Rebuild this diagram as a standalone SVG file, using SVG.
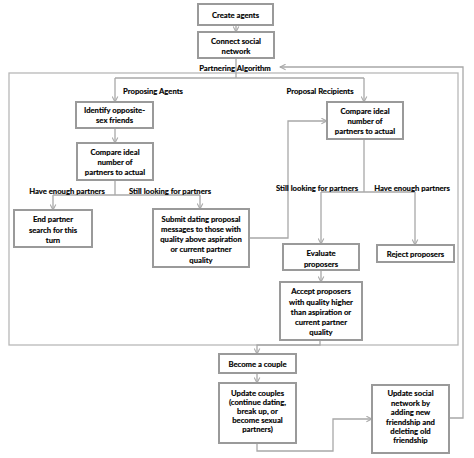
<svg xmlns="http://www.w3.org/2000/svg" width="474" height="458" viewBox="0 0 474 458">
<style>
.box{fill:#fff;stroke:#9a9a9a;stroke-width:2}
.ln{fill:none;stroke:#a8a8a8;stroke-width:1.3}
text{font-family:Lato,"Liberation Sans",sans-serif;font-weight:bold;font-size:7.7px;fill:#000;stroke:#000;stroke-width:0.15;text-anchor:middle;dominant-baseline:central}
</style>
<defs>
<marker id="ah" viewBox="0 0 10 10" refX="9" refY="5" markerWidth="7" markerHeight="7" orient="auto" markerUnits="userSpaceOnUse">
<path d="M1,1 L9,5 L1,9" fill="none" stroke="#a8a8a8" stroke-width="1.5"/>
</marker>
</defs>
<rect x="0" y="0" width="474" height="458" fill="#fff"/>
<rect x="9" y="73" width="449" height="272" fill="none" stroke="#b8b8b8" stroke-width="1.3"/>
<g id="connectors">
<path class="ln" d="M236,25 V32" marker-end="url(#ah)"/>
<path class="ln" d="M236,58 V78"/>
<path class="ln" d="M115,78 H364"/>
<path class="ln" d="M115,78 V102" marker-end="url(#ah)"/>
<path class="ln" d="M364,78 V102" marker-end="url(#ah)"/>
<path class="ln" d="M115,128 V143" marker-end="url(#ah)"/>
<path class="ln" d="M115,180 V195"/>
<path class="ln" d="M53,195 H200"/>
<path class="ln" d="M53,195 V210" marker-end="url(#ah)"/>
<path class="ln" d="M200,195 V209" marker-end="url(#ah)"/>
<path class="ln" d="M249,238 H288 V121 H327" marker-end="url(#ah)"/>
<path class="ln" d="M364,139 V192"/>
<path class="ln" d="M321,192 H415"/>
<path class="ln" d="M321,192 V244" marker-end="url(#ah)"/>
<path class="ln" d="M415,192 V245" marker-end="url(#ah)"/>
<path class="ln" d="M321,270 V282" marker-end="url(#ah)"/>
<path class="ln" d="M320,340 V345 H257 V354" marker-end="url(#ah)"/>
<path class="ln" d="M257,373 V383" marker-end="url(#ah)"/>
<path class="ln" d="M257,443 V451 H333 V419 H372" marker-end="url(#ah)"/>
<path class="ln" d="M449,418 H463 V67 H280" marker-end="url(#ah)"/>
</g>
<text x="235" y="68">Partnering Algorithm</text>
<text x="153" y="91">Proposing Agents</text>
<text x="320" y="91">Proposal Recipients</text>
<text x="67" y="191">Have enough partners</text>
<text x="170" y="191">Still looking for partners</text>
<text x="317" y="188">Still  looking for partners</text>
<text x="412" y="188">Have enough partners</text>
<g id="create">
<rect class="box" x="198" y="4" width="75" height="21"/>
<text x="235.5" y="14.5">Create agents</text>
</g>
<g id="connect">
<rect class="box" x="198" y="32" width="76" height="26"/>
<text x="236" y="40.5">Connect social</text>
<text x="236" y="51">network</text>
</g>
<g id="identify">
<rect class="box" x="76" y="102" width="77" height="26"/>
<text x="114.5" y="109.5">Identify opposite-</text>
<text x="114.5" y="120">sex friends</text>
</g>
<g id="compareL">
<rect class="box" x="77" y="143" width="76" height="37"/>
<text x="115" y="151.5">Compare ideal</text>
<text x="115" y="161.8">number of</text>
<text x="115" y="172.2">partners to actual</text>
</g>
<g id="endsearch">
<rect class="box" x="14" y="210" width="78" height="37"/>
<text x="53" y="219.3">End partner</text>
<text x="53" y="229.8">search for this</text>
<text x="53" y="240">turn</text>
</g>
<g id="submit">
<rect class="box" x="153" y="209" width="96" height="58"/>
<text x="201" y="219.3">Submit dating proposal</text>
<text x="201" y="229.3">messages to those with</text>
<text x="201" y="239.3">quality above aspiration</text>
<text x="201" y="249.3">or current partner</text>
<text x="201" y="259.6">quality</text>
</g>
<g id="compareR">
<rect class="box" x="327" y="102" width="76" height="37"/>
<text x="365" y="110.7">Compare ideal</text>
<text x="365" y="120.8">number of</text>
<text x="365" y="131">partners to actual</text>
</g>
<g id="evaluate">
<rect class="box" x="283" y="244" width="76" height="26"/>
<text x="321" y="253">Evaluate</text>
<text x="321" y="264">proposers</text>
</g>
<g id="reject">
<rect class="box" x="377" y="245" width="77" height="17"/>
<text x="415.5" y="253.5">Reject proposers</text>
</g>
<g id="accept">
<rect class="box" x="280" y="282" width="82" height="58"/>
<text x="321" y="291">Accept proposers</text>
<text x="321" y="301.5">with quality higher</text>
<text x="321" y="312">than aspiration or</text>
<text x="321" y="322.2">current partner</text>
<text x="321" y="331.7">quality</text>
</g>
<g id="couple">
<rect class="box" x="219" y="354" width="77" height="19"/>
<text x="257.5" y="363.5">Become a couple</text>
</g>
<g id="updatecouples">
<rect class="box" x="219" y="383" width="77" height="60"/>
<text x="257.5" y="392.7">Update couples</text>
<text x="257.5" y="401.8">(continue dating,</text>
<text x="257.5" y="410.8">break up, or</text>
<text x="257.5" y="420">become sexual</text>
<text x="257.5" y="429.3">partners)</text>
</g>
<g id="updatenetwork">
<rect class="box" x="372" y="385" width="77" height="68"/>
<text x="410.5" y="393.3">Update social</text>
<text x="410.5" y="403">network by</text>
<text x="410.5" y="412.3">adding new</text>
<text x="410.5" y="421.6">friendship and</text>
<text x="410.5" y="430.7">deleting old</text>
<text x="410.5" y="439.5">friendship</text>
</g>
</svg>
